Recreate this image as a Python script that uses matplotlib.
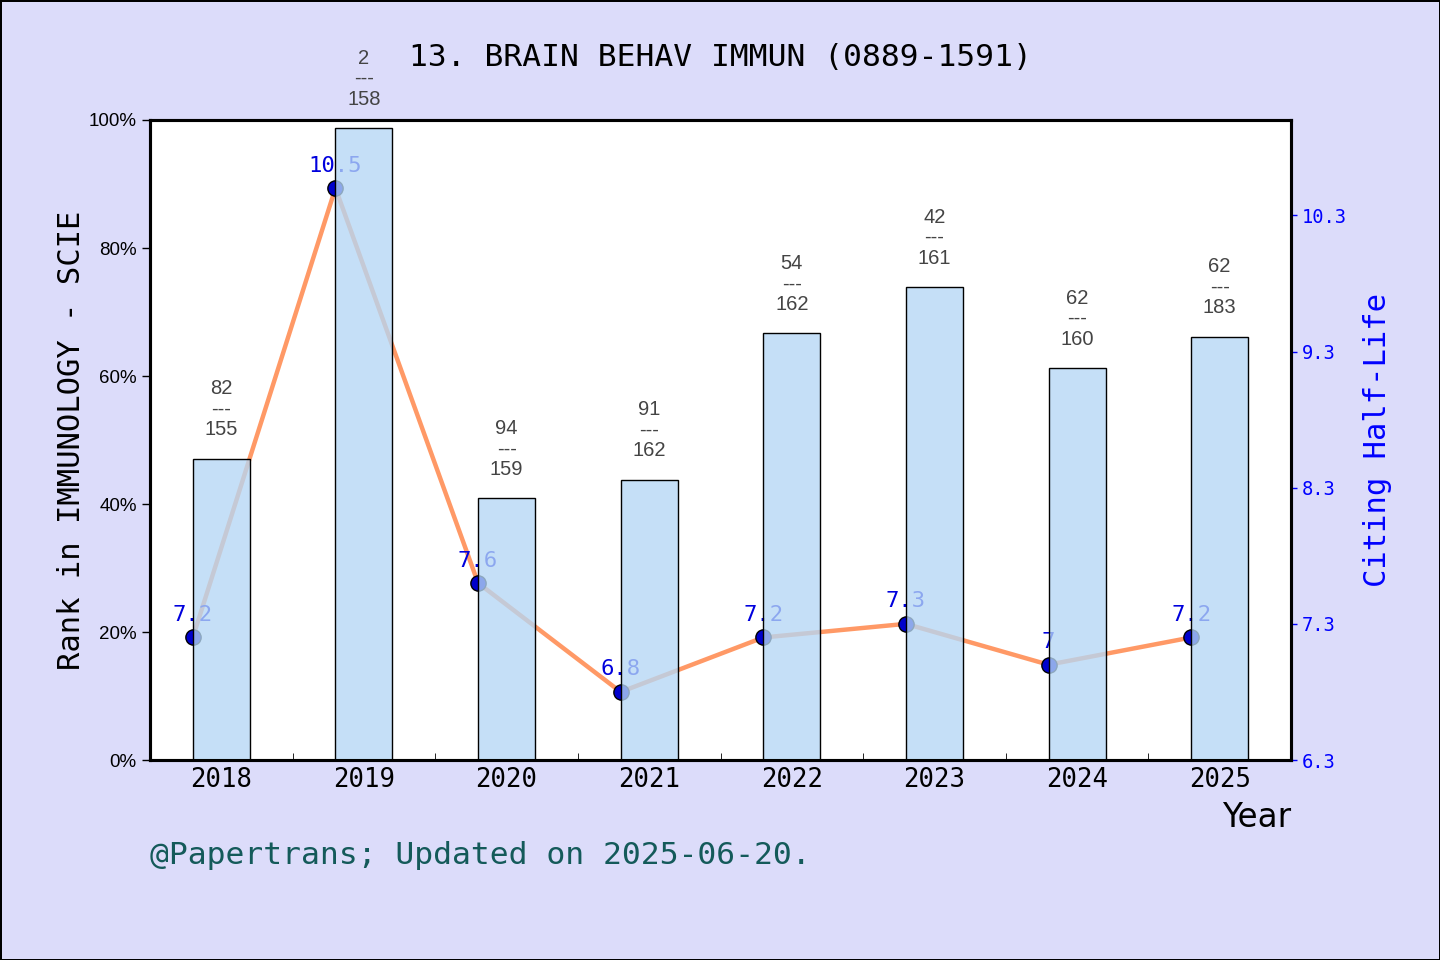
import numpy as np
import matplotlib
matplotlib.use('Agg')
import matplotlib.pyplot as plt

years = ['2018', '2019', '2020', '2021', '2022', '2023', '2024', '2025']
rank = [82, 2, 94, 91, 54, 42, 62, 62]
total = [155, 158, 159, 162, 162, 161, 160, 183]
half_life = [7.2, 10.5, 7.6, 6.8, 7.2, 7.3, 7.0, 7.2]
half_life_txt = ['7.2', '10.5', '7.6', '6.8', '7.2', '7.3', '7', '7.2']
right_ticks = [6.3, 7.3, 8.3, 9.3, 10.3]

mono = 'DejaVu Sans Mono'
bg = '#dcdcfa'

x = np.arange(len(years))
pct = [1 - r / t for r, t in zip(rank, total)]

fig = plt.figure(figsize=(14.4, 9.6), dpi=100, facecolor=bg, edgecolor='black', linewidth=1)
ax = fig.add_axes([0.1042, 0.2083, 0.7923, 0.6667])
ax2 = ax.twinx()

# line behind the bars
ax.set_zorder(ax2.get_zorder() + 1)
ax.patch.set_visible(False)
ax2.patch.set_visible(True)
ax2.patch.set_facecolor('white')

ax2.plot(x, half_life, color='#ff9966', linewidth=3.2, zorder=2)
ax2.plot(x, half_life, 'o', color='#0000cc', markeredgecolor='black', markersize=11, zorder=3)
for xi, v, t in zip(x, half_life, half_life_txt):
    ax2.annotate(t, (xi, v), xytext=(0, 9), textcoords='offset points', ha='center', va='bottom',
                 fontsize=16, family=mono, color='#0000dd')
ax2.set_ylim(6.3, 11.0)
ax2.set_yticks(right_ticks)
ax2.set_yticklabels([str(v) for v in right_ticks], family=mono, fontsize=13.5, color='blue')
ax2.tick_params(axis='y', colors='blue', length=4, width=1)
ax2.set_ylabel('Citing Half-Life', family=mono, fontsize=22, color='blue', labelpad=12)

ax.bar(x, pct, width=0.4, align='edge', facecolor=(181/255, 215/255, 245/255, 0.78),
       edgecolor='black', linewidth=1, zorder=2)
for xi, p, r, t in zip(x, pct, rank, total):
    ax.annotate('%d\n---\n%d' % (r, t), (xi + 0.2, p), xytext=(0, 14), textcoords='offset points',
                ha='center', va='bottom', fontsize=14.5, family='Liberation Sans', color='#444444',
                linespacing=1.1, annotation_clip=False)

ax.set_xlim(-0.3, 7.7)
ax.set_ylim(0, 1)
ax.set_xticks(x + 0.2)
ax.set_xticklabels(years, family=mono, fontsize=18.5)
ax.set_xticks(x + 0.7, minor=True)
ax.tick_params(axis='x', which='major', length=0, pad=5)
ax.tick_params(axis='x', which='minor', length=5, direction='in')
ax.set_yticks(np.linspace(0, 1, 6))
ax.set_yticklabels(['%d%%' % v for v in range(0, 101, 20)], family='Liberation Sans', fontsize=13.5)
ax.tick_params(axis='y', length=6, width=1)
ax.set_ylabel('Rank in IMMUNOLOGY - SCIE', family=mono, fontsize=22, labelpad=2)

for a in (ax, ax2):
    for s in a.spines.values():
        s.set_linewidth(2.2)

fig.text(0.5, 0.94, '13. BRAIN BEHAV IMMUN (0889-1591)', ha='center', va='center',
         family=mono, fontsize=22.5)
fig.text(0.8965, 0.148, 'Year', ha='right', va='center', fontsize=23.5, family='DejaVu Sans')
fig.text(0.1042, 0.109, '@Papertrans; Updated on 2025-06-20.', ha='left', va='center',
         family=mono, fontsize=22.6, color='#145a5a')

fig.savefig('out.png', dpi=100, facecolor=bg, edgecolor='black')
